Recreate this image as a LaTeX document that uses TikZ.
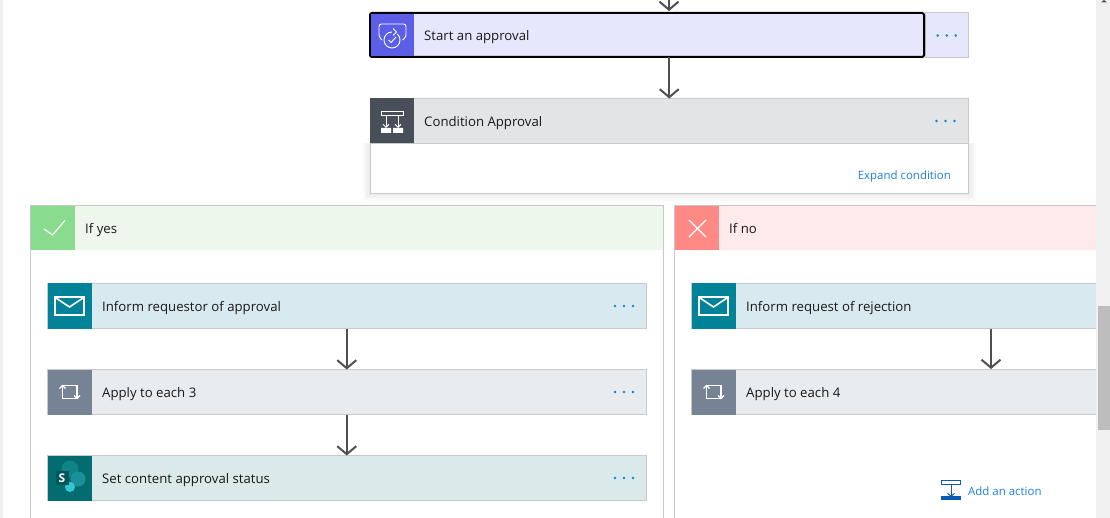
\documentclass[tikz,border=0pt]{standalone}
\usepackage{fontspec}
\setmainfont{Open Sans}
\usetikzlibrary{arrows.meta, positioning, calc}
\definecolor{edgegray}{HTML}{C8C8C8}
\definecolor{arrowgray}{HTML}{505050}
\definecolor{linkblue}{HTML}{1B7FDC}
\definecolor{dotblue}{HTML}{0F7FE0}
\definecolor{approvalbody}{HTML}{E6E6FC}
\definecolor{approvalicon}{HTML}{5C5FE6}
\definecolor{condbody}{HTML}{E2E4E6}
\definecolor{condicon}{HTML}{484F58}
\definecolor{yesbody}{HTML}{EDF7EC}
\definecolor{yesicon}{HTML}{89DB8E}
\definecolor{nobody}{HTML}{FEEAEA}
\definecolor{noicon}{HTML}{FF8985}
\definecolor{mailbody}{HTML}{D8EAEF}
\definecolor{mailicon}{HTML}{008299}
\definecolor{loopbody}{HTML}{E9ECEE}
\definecolor{loopicon}{HTML}{768394}
\definecolor{spbody}{HTML}{DAE9E9}
\definecolor{spicon}{HTML}{036C70}
\definecolor{sptop}{HTML}{0E8488}
\definecolor{spright}{HTML}{1A9198}
\definecolor{spbottom}{HTML}{37C6D0}
\definecolor{spsquare}{HTML}{04585C}
\definecolor{addblue}{HTML}{0B5CB0}
\tikzset{
  cardbox/.style={draw=edgegray, line width=1pt, anchor=north west, minimum height=45pt, inner sep=0pt, outer sep=0pt},
  iconbox/.style={anchor=north west, minimum width=44pt, minimum height=44pt, inner sep=0pt, outer sep=0pt},
  cardlabel/.style={font=\fontsize{13.2}{15}\selectfont, text=black!90, inner sep=0pt, anchor=west, text height=13pt, text depth=2pt},
  linklabel/.style={cardlabel, font=\fontsize{11.45}{14}\selectfont, text=linkblue, text height=11pt},
  flowarrow/.style={draw=arrowgray, line width=2pt, -{Straight Barb[length=8pt,width=19pt,line width=2pt]}},
  glyph/.style={draw=white, line width=1.1pt, fill=none},
  pics/moredots/.style={code={
    \foreach \i in {-9,0,9} \fill[dotblue] (\i,0) circle (1.3);
  }},
  pics/mailglyph/.style={code={
    \draw[white, line width=2.2pt] (-14.5,-9) rectangle (14.5,9);
    \draw[white, line width=1.6pt] (-15,-9) -- (0,1) -- (15,-9);
  }},
  pics/loopglyph/.style={code={
    \draw[glyph] (-7,-6.5) rectangle (7.5,6.5);
    \draw[glyph] (-10,-3.5) -- (-7,-6.5) -- (-4,-3.5);
    \draw[glyph] (4.5,3.5) -- (7.5,6.5) -- (10.5,3.5);
  }}
}
\begin{document}
\begin{tikzpicture}[x=1pt,y=-1pt]
  \clip (0,0) rectangle (1110,518);
  \fill[white] (0,0) rectangle (1110,518);
  \fill[black!6] (0,0) rectangle (3,518);

  % start of the flow
  \coordinate (topin) at (669,-10);
  \node[cardbox, fill=approvalbody, minimum width=43.5pt] (startmore) at (925,13) {};
  \node[cardbox, draw=black, fill=approvalbody, line width=2pt, rounded corners=2pt, minimum width=554pt, minimum height=44pt] (start) at (370,13) {};
  \node[iconbox, fill=approvalicon, minimum height=42pt, minimum width=43pt] (starticon) at (371,14) {};
  \node[cardlabel, right=10pt of starticon] (startlabel) {Start an approval};
  \draw[white, line width=.9pt, rounded corners=2.5pt] (382,40) -- (379,37) -- (379,24) -- (406,24) -- (406,37) -- (402.5,40);
  \fill[approvalicon] (392,40) circle (9.5);
  \draw[white, line width=.9pt] (392,40) circle (8);
  \fill[approvalicon] (392,28) rectangle (397,35);
  \draw[white, line width=.9pt] (393,28.5) -- (396.5,32) -- (393,35.5);
  \draw[white, line width=.9pt] (388.5,40) -- (391,42.5) -- (396,37);
  \path (startmore.center) pic {moredots};

  % condition block with its expand panel
  \foreach \s in {7,5,3,1}
    \fill[black, opacity=.02] (370-\s,143) rectangle (969+\s,194+\s);
  \node[cardbox, fill=condbody, minimum width=598.5pt] (cond) at (370,98.5) {};
  \node[iconbox, fill=condicon, minimum height=45pt] (condicon) at (370,98.5) {};
  \node[cardlabel, right=10pt of condicon] (condlabel) {Condition Approval};
  \draw[white, line width=1pt] (381,112) rectangle (403,116);
  \draw[white, line width=1pt, -{Straight Barb[length=3pt,width=6pt]}] (386,116) -- (386,128);
  \draw[white, line width=1pt, -{Straight Barb[length=3pt,width=6pt]}] (398,116) -- (398,128);
  \fill[white] (381,128) rectangle (391,133) (393,128) rectangle (403,133);
  \path (cond.east) ++(-23,0) pic {moredots};
  \node[cardbox, fill=white, minimum width=598.5pt, minimum height=50.5pt] (expand) at (370,143.5) {};
  \node[linklabel, anchor=east] (expandlabel) at (951,174.8) {Expand condition};

  % yes branch
  \node[cardbox, fill=white, minimum width=633.5pt, minimum height=340pt] (yespanel) at (30,205.5) {};
  \node[cardbox, draw=none, fill=yesbody, minimum width=632pt, minimum height=44pt] (yes) at (31,206) {};
  \node[iconbox, fill=yesicon] (yesicon) at (31,206) {};
  \node[cardlabel, right=10pt of yesicon] (yeslabel) {If yes};
  \draw[white, line width=1.2pt] (44,229) -- (52.5,235) -- (65,220.5);

  \node[cardbox, fill=mailbody, minimum width=599.5pt] (informyes) at (47,283.5) {};
  \node[iconbox, fill=mailicon, minimum height=45pt] (informyesicon) at (47.5,283.5) {};
  \node[cardlabel, right=10.5pt of informyesicon] (informyeslabel) {Inform requestor of approval};
  \path (informyesicon.center) pic {mailglyph};
  \path (informyes.east) ++(-22.5,0) pic {moredots};

  \node[cardbox, fill=loopbody, minimum width=599.5pt] (applyyes) at (47,369.5) {};
  \node[iconbox, fill=loopicon, minimum height=45pt] (applyyesicon) at (47.5,369.5) {};
  \node[cardlabel, right=10.5pt of applyyesicon] (applyyeslabel) {Apply to each 3};
  \path (applyyesicon.center) pic {loopglyph};
  \path (applyyes.east) ++(-22.5,0) pic {moredots};

  \node[cardbox, fill=spbody, minimum width=599.5pt] (status) at (47,455.5) {};
  \node[iconbox, fill=spicon, minimum height=45pt] (statusicon) at (47.5,455.5) {};
  \node[cardlabel, right=10.5pt of statusicon] (statuslabel) {Set content approval status};
  \fill[sptop] (70,469) circle (8.5);
  \fill[spright] (78,479) circle (7.5);
  \fill[spbottom] (70,487) circle (5);
  \fill[spsquare] (55.5,471) rectangle (68.5,484.5);
  \node[font=\bfseries\fontsize{12}{12}\selectfont, text=white, inner sep=0pt] (statusglyph) at (62,477.8) {S};
  \path (status.east) ++(-22.5,0) pic {moredots};

  % no branch
  \node[cardbox, fill=white, minimum width=500pt, minimum height=340pt] (nopanel) at (674,205.5) {};
  \node[cardbox, draw=none, fill=nobody, minimum width=440pt, minimum height=44pt] (no) at (675,206) {};
  \node[iconbox, fill=noicon] (noicon) at (675,206) {};
  \node[cardlabel, right=10pt of noicon] (nolabel) {If no};
  \draw[white, line width=1.1pt] (689,220) -- (706,237) (706,220) -- (689,237);

  \node[cardbox, fill=mailbody, minimum width=440pt] (informno) at (691,283.5) {};
  \node[iconbox, fill=mailicon, minimum height=45pt] (informnoicon) at (691.5,283.5) {};
  \node[cardlabel, right=10.5pt of informnoicon] (informnolabel) {Inform request of rejection};
  \path (informnoicon.center) pic {mailglyph};

  \node[cardbox, fill=loopbody, minimum width=440pt] (applyno) at (691,369.5) {};
  \node[iconbox, fill=loopicon, minimum height=45pt] (applynoicon) at (691.5,369.5) {};
  \node[cardlabel, right=10.5pt of applynoicon] (applynolabel) {Apply to each 4};
  \path (applynoicon.center) pic {loopglyph};

  \draw[addblue, line width=1pt] (941.5,480.5) rectangle (960.5,484.5);
  \draw[addblue, line width=1pt, -{Straight Barb[length=3pt,width=7pt]}] (951,485) -- (951,497);
  \fill[addblue] (941,496) rectangle (961,500);
  \node[linklabel] (addlabel) at (968,490.5) {Add an action};

  % connectors
  \draw[flowarrow] (topin) -- (669,11);
  \draw[flowarrow] (start.south -| cond.north) -- (cond.north);
  \draw[flowarrow] (informyes.south) -- (applyyes.north);
  \draw[flowarrow] (applyyes.south) -- (status.north);
  \coordinate (informnoout) at (991,329);
  \coordinate (applynoin) at (991,369);
  \draw[flowarrow] (informnoout) -- (applynoin);

  % scroll bar
  \fill[black!6] (1096,0) rectangle (1110,518);
  \fill[black!26] (1098,306) rectangle (1110,430);
  \fill[arrowgray] (1101,2.5) -- (1104,0) -- (1107,2.5) -- cycle;
\end{tikzpicture}
\end{document}
